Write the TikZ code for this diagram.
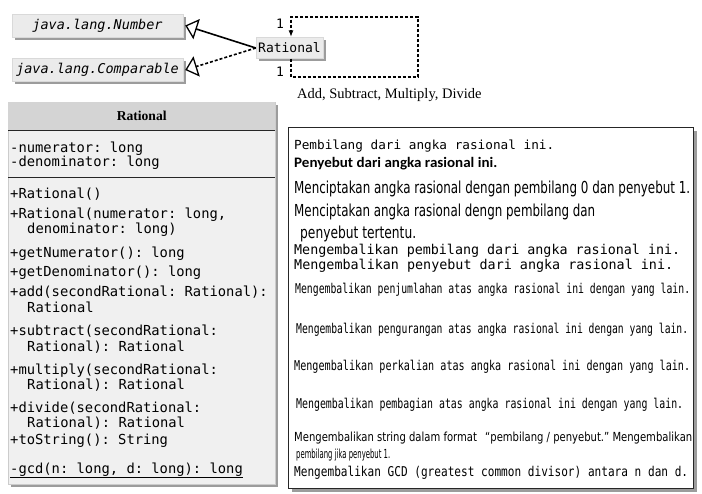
\documentclass[tikz,border=0pt]{standalone}
\usepackage{fontspec}
\setmainfont{Liberation Serif}
\setmonofont{DejaVu Sans Mono}
\newfontfamily\gothic{DejaVu Sans Mono}
\newfontfamily\pgothic{DejaVu Sans}
\newfontfamily\calib{Carlito}
\usepackage{graphicx}
\usetikzlibrary{arrows.meta,positioning,shadows}
\definecolor{boxgray}{HTML}{EBEBEB}
\definecolor{headgray}{HTML}{D4D4D4}
\definecolor{bodygray}{HTML}{F0F0F0}
\definecolor{shadegray}{HTML}{9C9C9C}
% squeeze a line of text to a given width (in pt)
\newcommand{\fitw}[2]{\resizebox{#1pt}{\height}{#2}}

\begin{document}
\frenchspacing
\begin{tikzpicture}[x=1pt,y=-1pt,
  shade3/.style={drop shadow={shadow xshift=3pt,shadow yshift=-3pt,fill=shadegray,opacity=1}},
  iface/.style={shade3,fill=boxgray,draw=black!15,minimum width=171pt,minimum height=23pt,inner sep=0pt,
    font=\fontsize{13.5}{15}\selectfont\ttfamily\itshape},
  smallcls/.style={shade3,fill=boxgray,draw=black!15,minimum width=67pt,minimum height=21pt,inner sep=0pt,
    font=\fontsize{13}{15}\selectfont\ttfamily},
  clsbox/.style={shade3,fill=bodygray,draw=black!20,inner sep=0pt},
  hdrbox/.style={fill=headgray,inner sep=0pt,font=\fontsize{13.6}{15}\selectfont\bfseries},
  descbox/.style={shade3,fill=white,draw=black!85,line width=1.3pt,inner sep=0pt},
  divline/.style={black!85,line width=1.3pt},
  member/.style={anchor=base west,inner sep=0pt,font=\fontsize{13.8}{15}\selectfont\ttfamily},
  desc/.style={anchor=base west,inner sep=0pt},
  inherit/.style={line width=1.6pt,-{Triangle[open,length=12pt,width=21pt,line width=1.3pt]}},
  loopline/.style={line width=1.4pt,dash pattern=on 3pt off 2pt,-{Latex[length=7pt,width=5pt]}}]
  \useasboundingbox (0,0) rectangle (702,494);

  % top: interfaces and the small Rational box
  \node[iface] (num) at (97.5,25.5) {java.lang.Number};
  \node[iface] (cmp) at (97.5,70) {java.lang.Comparable};
  \node[smallcls] (rat) at (289.5,48) {Rational};
  \draw[inherit] (rat.west) -- ([xshift=2pt]num.east);
  \draw[inherit,dash pattern=on 3pt off 2pt] (rat.west) -- ([xshift=2pt]cmp.east);
  \coordinate (lpb) at (418,77);
  \coordinate (lpt) at (418,17);
  \draw[loopline] ([xshift=1.5pt]rat.south) |- (lpb) -- (lpt) -| ([xshift=1.5pt]rat.north);
  \node[font=\fontsize{13}{15}\selectfont\ttfamily,inner sep=0pt] (one1) at (280,24) {1};
  \node[font=\fontsize{13}{15}\selectfont\ttfamily,inner sep=0pt] (one2) at (280,72) {1};
  \node[anchor=base west,inner sep=0pt,font=\fontsize{14.5}{16}\selectfont] (ops) at (297,99) {Add, Subtract, Multiply, Divide};

  % class box
  \node[clsbox,anchor=north west,minimum width=267pt,minimum height=382pt] (cls) at (8,102) {};
  \node[hdrbox,anchor=north west,minimum width=267pt,minimum height=28pt] (hdr) at (cls.north west) {Rational};
  \draw[divline] (hdr.south west) -- (hdr.south east);
  \draw[divline] ([yshift=-47pt]hdr.south west) -- ([yshift=-47pt]hdr.south east);
  \foreach \x/\y/\t [count=\i] in {10/153/{-numerator: long},10/167/{-denominator: long},
      10/199/{+Rational()},10/219/{+Rational(numerator: long,},27/234/{denominator: long)},
      10/258/{+getNumerator(): long},10/277/{+getDenominator(): long},
      10/297/{+add(secondRational: Rational):},27/313/{Rational},
      10/336/{+subtract(secondRational:},27/352/{Rational): Rational},
      10/375/{+multiply(secondRational:},27/390/{Rational): Rational},
      10/413/{+divide(secondRational:},27/428/{Rational): Rational},
      10/445/{+toString(): String},10/473/{\underline{-gcd(n: long, d: long): long}}}{
    \node[member] (mem\i) at (\x,\y) {\t};
  }

  % descriptions
  \node[descbox,anchor=north west,minimum width=405pt,minimum height=361pt] (dbox) at (288,127) {};
  \node[desc,font=\gothic\fontsize{12.5}{14}\selectfont] (d1) at (294,150) {\fitw{260}{Pembilang dari angka rasional ini.}};
  \node[desc,font=\calib\bfseries\fontsize{14.5}{16}\selectfont] (d2) at (294,168) {\fitw{203}{Penyebut dari angka rasional ini.}};
  \node[desc,font=\pgothic\fontsize{16.5}{18}\selectfont] (d3) at (294,194) {\fitw{396}{Menciptakan angka rasional dengan pembilang 0 dan penyebut 1.}};
  \node[desc,font=\pgothic\fontsize{16.5}{18}\selectfont] (d4) at (294,217) {\fitw{301}{Menciptakan angka rasional dengn pembilang dan}};
  \node[desc,font=\pgothic\fontsize{16.5}{18}\selectfont] (d5) at (300,239) {\fitw{116}{penyebut tertentu.}};
  \node[desc,font=\gothic\fontsize{13.5}{15}\selectfont] (d6) at (294,255) {\fitw{386}{Mengembalikan pembilang dari angka rasional ini.}};
  \node[desc,font=\gothic\fontsize{13.5}{15}\selectfont] (d7) at (294,270) {\fitw{379}{Mengembalikan penyebut dari angka rasional ini.}};
  \node[desc,font=\gothic\fontsize{13.5}{15}\selectfont] (d8) at (295,294) {\fitw{395}{Mengembalikan penjumlahan atas angka rasional ini dengan yang lain.}};
  \node[desc,font=\gothic\fontsize{13.5}{15}\selectfont] (d9) at (296,334) {\fitw{392}{Mengembalikan pengurangan atas angka rasional ini dengan yang lain.}};
  \node[desc,font=\gothic\fontsize{13.5}{15}\selectfont] (d10) at (294,371) {\fitw{396}{Mengembalikan perkalian atas angka rasional ini dengan yang lain.}};
  \node[desc,font=\gothic\fontsize{13.5}{15}\selectfont] (d11) at (296,409) {\fitw{387}{Mengembalikan pembagian atas angka rasional ini dengan yang lain.}};
  \node[desc,font=\pgothic\fontsize{12.5}{14}\selectfont] (d12) at (294,442) {\fitw{398}{Mengembalikan string dalam format \enspace“pembilang / penyebut.” Mengembalikan}};
  \node[desc,font=\pgothic\fontsize{12.5}{14}\selectfont] (d13) at (296,458) {\fitw{94}{pembilang jika penyebut 1.}};
  \node[desc,font=\gothic\fontsize{13.5}{15}\selectfont] (d14) at (294,477) {\fitw{394}{Mengembalikan GCD (greatest common divisor) antara n dan d.}};
\end{tikzpicture}
\end{document}
